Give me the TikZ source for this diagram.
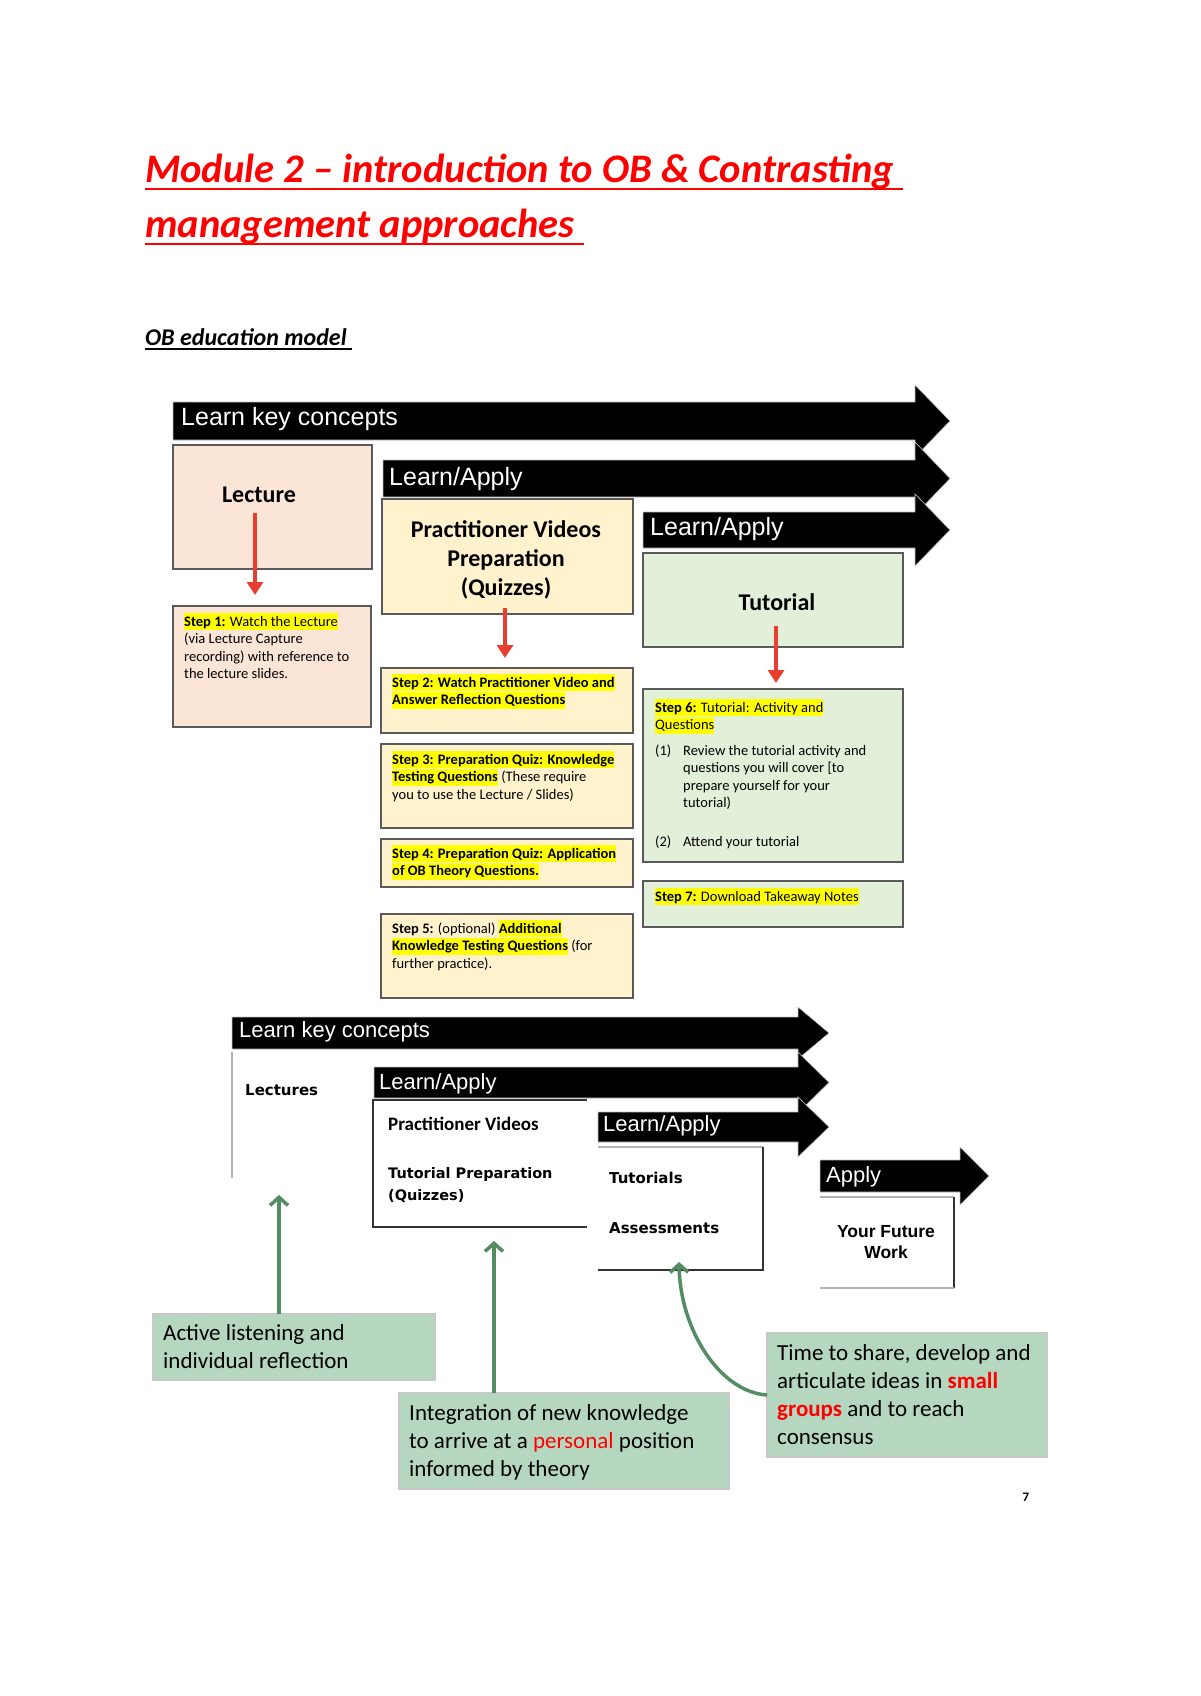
\documentclass[tikz,border=0pt]{standalone}
\usepackage{fontspec}
\setmainfont{Carlito}
\newfontfamily\arialf{Liberation Sans}
\newfontfamily\dejaf{DejaVu Sans}
\usetikzlibrary{arrows.meta}
\definecolor{lecfill}{HTML}{FBE5D6}
\definecolor{pracfill}{HTML}{FFF2CC}
\definecolor{tutfill}{HTML}{E2F0D9}
\definecolor{notefill}{HTML}{B6D7BF}
\definecolor{noteedge}{HTML}{C8C8C8}
\definecolor{boxedge}{HTML}{5A5A5A}
\definecolor{garrow}{RGB}{84,141,99}
\definecolor{rarrow}{RGB}{232,62,48}
\definecolor{hlyellow}{HTML}{FFFF00}
\definecolor{titlered}{HTML}{FF0000}
\newcommand\hlt[1]{{\setlength{\fboxsep}{0pt}\colorbox{hlyellow}{\rule[-0.3em]{0pt}{1.18em}#1}}}
\newcommand\stepfont{\fontsize{14.5}{17.6}\selectfont\lineskiplimit=-20pt\relax}
\newcommand\notefont{\fontsize{23}{28}\selectfont\lineskiplimit=-20pt\relax}
\newcommand\blackbar[7]{\filldraw[barstyle] (#1,#2) -- (#4,#2) -- (#4,#5) -- (#7,{(#2+#3)/2}) -- (#4,#6) -- (#4,#3) -- (#1,#3) -- cycle;}
\tikzset{
  barstyle/.style={fill=black, draw=gray!45, line width=0.6pt},
  bartxt/.style={text=white, font=\arialf\fontsize{25}{30}\selectfont, anchor=base west, inner sep=0},
  lbartxt/.style={text=white, font=\arialf\fontsize{22}{26}\selectfont, anchor=base west, inner sep=0},
  panel/.style={draw=boxedge, line width=1.8pt, inner sep=0, outer sep=0, anchor=north west},
  note/.style={draw=noteedge, fill=notefill, line width=1.2pt, inner sep=0, outer sep=0, anchor=north west},
  txt/.style={anchor=base west, inner sep=0},
  ctxt/.style={anchor=base, inner sep=0},
  headlbl/.style={ctxt, font=\fontsize{24}{29}\selectfont\bfseries},
  redarr/.style={draw=rarrow, line width=3.5pt, -{Triangle[width=16pt,length=13pt]}},
  greenarr/.style={draw=garrow, line width=3.5pt, -{Straight Barb[length=8pt,width=18pt]}},
  darkedge/.style={draw=black!80, line width=1.6pt},
  lightedge/.style={draw=gray!60, line width=1.6pt}
}
\begin{document}
\begin{tikzpicture}[x=1pt,y=-1pt]
\useasboundingbox (0,0) rectangle (1200,1696);
\fill[white] (0,0) rectangle (1200,1696);

% titles
\node[txt, text=titlered, font=\fontsize{40.5}{48}\selectfont\bfseries\itshape] (title1) at (145,183) {Module 2 – introduction to OB \& Contrasting\hspace{9pt}\null};
\node[txt, text=titlered, font=\fontsize{40.5}{48}\selectfont\bfseries\itshape] (title2) at (145,238) {management approaches\hspace{9pt}\null};
\draw[titlered, line width=2.5pt] ([yshift=-6pt]title1.base west) -- ([yshift=-6pt]title1.base east);
\draw[titlered, line width=2.5pt] ([yshift=-6pt]title2.base west) -- ([yshift=-6pt]title2.base east);
\node[txt, font=\fontsize{24}{28}\selectfont\bfseries\itshape] (sub) at (145,345) {OB education model\hspace{5pt}\null};
\draw[black, line width=1.5pt] ([yshift=-4pt]sub.base west) -- ([yshift=-4pt]sub.base east);

% upper bars
\blackbar{173}{402}{440}{915}{385}{457}{950}
\blackbar{383}{460}{497}{915}{442}{515}{950}
\blackbar{643}{512}{548}{915}{494}{566}{950}
\node[bartxt] (bt1) at (181,425) {Learn key concepts};
\node[bartxt] (bt2) at (389,485) {Learn/Apply};
\node[bartxt] (bt3) at (650,535) {Learn/Apply};

% upper boxes
\node[panel, fill=lecfill, minimum width=199pt, minimum height=124pt] (lecbox) at (173,445) {};
\node[panel, fill=pracfill, minimum width=251pt, minimum height=115pt] (pracbox) at (382,499) {};
\node[panel, fill=tutfill, minimum width=260pt, minimum height=94pt] (tutbox) at (643,553) {};
\node[headlbl] (lectxt) at (259,502) {Lecture};
\node[headlbl] (pv1) at (506,537) {Practitioner Videos};
\node[headlbl] (pv2) at (506,566) {Preparation};
\node[headlbl] (pv3) at (506,595) {(Quizzes)};
\node[headlbl] (tuttxt) at (777,610) {Tutorial};

% step boxes
\node[panel, fill=lecfill, minimum width=198pt, minimum height=121pt] (s1box) at (173,606) {};
\node[panel, fill=pracfill, minimum width=252pt, minimum height=65pt] (s2box) at (381,668) {};
\node[panel, fill=pracfill, minimum width=252pt, minimum height=84pt] (s3box) at (381,744) {};
\node[panel, fill=pracfill, minimum width=252pt, minimum height=48pt] (s4box) at (381,839) {};
\node[panel, fill=pracfill, minimum width=252pt, minimum height=84pt] (s5box) at (381,914) {};
\node[panel, fill=tutfill, minimum width=260pt, minimum height=173pt] (s6box) at (643,689) {};
\node[panel, fill=tutfill, minimum width=260pt, minimum height=46pt] (s7box) at (643,881) {};

\node[txt] (s1t) at (184,626) {\parbox[t]{185pt}{\stepfont\hlt{\textbf{Step 1:} Watch the Lecture}\\(via Lecture Capture\\recording) with reference to\\the lecture slides.}};
\node[txt] (s2t) at (392,687) {\parbox[t]{240pt}{\stepfont\hlt{\textbf{Step 2: Watch Practitioner Video and}}\\\hlt{\textbf{Answer Reflection Questions}}}};
\node[txt] (s3t) at (392,764) {\parbox[t]{240pt}{\stepfont\hlt{\textbf{Step 3: Preparation Quiz: Knowledge}}\\\hlt{\textbf{Testing Questions}} (These require\\you to use the Lecture / Slides)}};
\node[txt] (s4t) at (392,858) {\parbox[t]{240pt}{\stepfont\hlt{\textbf{Step 4: Preparation Quiz: Application}}\\\hlt{\textbf{of OB Theory Questions.}}}};
\node[txt] (s5t) at (392,933) {\parbox[t]{240pt}{\stepfont\textbf{Step 5:} (optional) \hlt{\textbf{Additional}}\\\hlt{\textbf{Knowledge Testing Questions}} (for\\further practice).}};
\node[txt] (s6a) at (655,712) {\parbox[t]{240pt}{\stepfont\hlt{\textbf{Step 6:} Tutorial: Activity and}\\\hlt{Questions}}};
\node[txt] (s6b) at (655,755) {\parbox[t]{240pt}{\stepfont\makebox[28pt][l]{(1)}Review the tutorial activity and\\\hspace*{28pt}questions you will cover [to\\\hspace*{28pt}prepare yourself for your\\\hspace*{28pt}tutorial)}};
\node[txt] (s6c) at (655,846) {\parbox[t]{240pt}{\stepfont\makebox[28pt][l]{(2)}Attend your tutorial}};
\node[txt] (s7t) at (655,901) {\parbox[t]{240pt}{\stepfont\hlt{\textbf{Step 7:} Download Takeaway Notes}}};

% red arrows
\coordinate (r1) at (255,513);
\coordinate (r2) at (505,608);
\coordinate (r3) at (776,626);
\draw[redarr, shorten >=11pt] (r1) -- (r1 |- s1box.north);
\draw[redarr, shorten >=10pt] (r2) -- (r2 |- s2box.north);
\draw[redarr, shorten >=6pt] (r3) -- (r3 |- s6box.north);

% lower bars
\blackbar{232}{1017}{1049}{798}{1007}{1059}{829}
\blackbar{374}{1067}{1098}{798}{1052}{1113}{829}
\blackbar{598}{1112}{1142}{798}{1097}{1157}{829}
\blackbar{820}{1160}{1192}{960}{1147}{1205}{989}
\node[lbartxt] (lbt1) at (239,1037) {Learn key concepts};
\node[lbartxt] (lbt2) at (379,1089) {Learn/Apply};
\node[lbartxt] (lbt3) at (603,1131) {Learn/Apply};
\node[lbartxt] (lbt4) at (826,1182) {Apply};

% lower open boxes
\draw[lightedge] (232,1052) -- (232,1178);
\draw[darkedge] (587,1100) -- (373,1100) -- (373,1227) -- (587,1227);
\draw[lightedge] (598,1147) -- (763,1147);
\draw[darkedge] (763,1147) -- (763,1270) -- (598,1270);
\draw[lightedge] (820,1197) -- (954,1197);
\draw[darkedge] (954,1197) -- (954,1288);
\draw[lightedge] (954,1288) -- (820,1288);

\node[txt, font=\dejaf\bfseries\fontsize{15}{18}\selectfont] (lects) at (245,1095) {Lectures};
\node[txt, font=\fontsize{19}{22}\selectfont\bfseries] (pracv) at (388,1130) {Practitioner Videos};
\node[txt] (tutprep) at (388,1178) {\parbox[t]{200pt}{\dejaf\bfseries\fontsize{14.5}{22}\selectfont Tutorial Preparation\\(Quizzes)}};
\node[txt, font=\dejaf\bfseries\fontsize{15}{18}\selectfont] (tuts) at (609,1183) {Tutorials};
\node[txt, font=\dejaf\bfseries\fontsize{15}{18}\selectfont] (assess) at (609,1233) {Assessments};
\node[ctxt, font=\arialf\bfseries\fontsize{17.5}{21}\selectfont] (fut1) at (886,1237) {Your Future};
\node[ctxt, font=\arialf\bfseries\fontsize{17.5}{21}\selectfont] (fut2) at (886,1258) {Work};

% note boxes
\node[note, minimum width=282pt, minimum height=66pt] (act) at (153,1314) {};
\node[note, minimum width=330pt, minimum height=96pt] (integ) at (399,1393) {};
\node[note, minimum width=280pt, minimum height=124pt] (share) at (767,1333) {};
\node[txt] (actt) at (163,1340) {\parbox[t]{270pt}{\notefont Active listening and\\individual reflection}};
\node[txt] (integt) at (409,1420) {\parbox[t]{320pt}{\notefont Integration of new knowledge\\to arrive at a \textcolor{titlered}{personal} position\\informed by theory}};
\node[txt] (sharet) at (777,1360) {\parbox[t]{270pt}{\notefont Time to share, develop and\\articulate ideas in \textcolor{titlered}{\textbf{small}}\\\textcolor{titlered}{\textbf{groups}} and to reach\\consensus}};

% green arrows
\coordinate (g1) at (279,1195);
\coordinate (g2) at (494,1241);
\coordinate (g3) at (679,1262);
\draw[greenarr] (act.north -| g1) -- (g1);
\draw[greenarr] (integ.north -| g2) -- (g2);
\draw[greenarr] (share.west) .. controls (720,1392) and (680,1330) .. (g3);

\node[ctxt, font=\fontsize{13}{15}\selectfont\bfseries] (pg) at (1026,1501) {7};
\end{tikzpicture}
\end{document}
